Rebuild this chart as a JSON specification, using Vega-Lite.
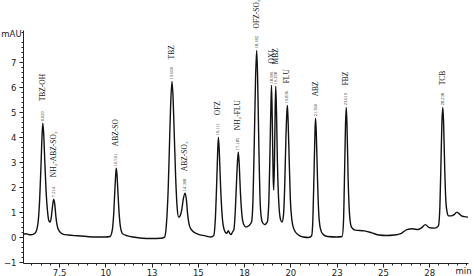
{
  "$schema": "https://vega.github.io/schema/vega-lite/v6.json",
  "width": 445,
  "height": 233,
  "autosize": {"type": "none"},
  "padding": {"left": 23, "top": 30, "right": 6, "bottom": 13},
  "background": "white",
  "config": {
    "view": {"stroke": null},
    "axis": {"labelFont": "DejaVu Sans", "labelFontSize": 8.5, "labelColor": "#222", "domainColor": "#222", "tickColor": "#222", "grid": false}
  },
  "datasets": {
    "chrom": [
      {"t": 5.55, "v": 0.1}, {"t": 5.7, "v": 0.13}, {"t": 5.85, "v": 0.1}, {"t": 6.0, "v": 0.09}, {"t": 6.2, "v": 0.15},
      {"t": 6.35, "v": 0.5}, {"t": 6.45, "v": 1.5}, {"t": 6.52, "v": 2.8}, {"t": 6.57, "v": 3.9}, {"t": 6.62, "v": 4.56},
      {"t": 6.67, "v": 4.1}, {"t": 6.73, "v": 3.0}, {"t": 6.8, "v": 1.8}, {"t": 6.88, "v": 1.0}, {"t": 6.95, "v": 0.65},
      {"t": 7.02, "v": 0.6}, {"t": 7.08, "v": 0.8}, {"t": 7.14, "v": 1.2}, {"t": 7.21, "v": 1.52}, {"t": 7.27, "v": 1.3},
      {"t": 7.33, "v": 0.8}, {"t": 7.4, "v": 0.45}, {"t": 7.5, "v": 0.25}, {"t": 7.7, "v": 0.12}, {"t": 8.0, "v": 0.08},
      {"t": 8.5, "v": 0.05}, {"t": 9.0, "v": 0.02}, {"t": 9.5, "v": 0.0}, {"t": 10.0, "v": 0.0}, {"t": 10.25, "v": 0.02},
      {"t": 10.38, "v": 0.3}, {"t": 10.45, "v": 0.9}, {"t": 10.51, "v": 1.8}, {"t": 10.56, "v": 2.5}, {"t": 10.59, "v": 2.76},
      {"t": 10.63, "v": 2.5}, {"t": 10.68, "v": 1.8}, {"t": 10.75, "v": 0.9}, {"t": 10.83, "v": 0.35}, {"t": 10.95, "v": 0.12},
      {"t": 11.2, "v": 0.05}, {"t": 11.5, "v": 0.0}, {"t": 12.0, "v": -0.05}, {"t": 12.5, "v": -0.06}, {"t": 13.0, "v": -0.05},
      {"t": 13.2, "v": 0.0}, {"t": 13.3, "v": 0.5}, {"t": 13.4, "v": 2.0}, {"t": 13.47, "v": 3.8}, {"t": 13.53, "v": 5.3},
      {"t": 13.6, "v": 6.24}, {"t": 13.66, "v": 5.6}, {"t": 13.73, "v": 4.0}, {"t": 13.8, "v": 2.4}, {"t": 13.88, "v": 1.2},
      {"t": 13.96, "v": 0.8}, {"t": 14.04, "v": 0.85}, {"t": 14.13, "v": 1.1}, {"t": 14.22, "v": 1.55}, {"t": 14.31, "v": 1.76},
      {"t": 14.38, "v": 1.5}, {"t": 14.45, "v": 0.9}, {"t": 14.55, "v": 0.45}, {"t": 14.7, "v": 0.25}, {"t": 15.0, "v": 0.12},
      {"t": 15.4, "v": 0.05}, {"t": 15.7, "v": 0.0}, {"t": 15.85, "v": 0.05}, {"t": 15.95, "v": 0.8}, {"t": 16.02, "v": 2.2},
      {"t": 16.07, "v": 3.4}, {"t": 16.11, "v": 4.0}, {"t": 16.16, "v": 3.4}, {"t": 16.23, "v": 2.0}, {"t": 16.32, "v": 0.8},
      {"t": 16.42, "v": 0.3}, {"t": 16.55, "v": 0.15}, {"t": 16.65, "v": 0.25}, {"t": 16.72, "v": 0.15}, {"t": 16.8, "v": 0.1},
      {"t": 16.87, "v": 0.2}, {"t": 16.95, "v": 0.3}, {"t": 17.02, "v": 1.0}, {"t": 17.09, "v": 2.2}, {"t": 17.14, "v": 3.0},
      {"t": 17.185, "v": 3.4}, {"t": 17.23, "v": 3.0}, {"t": 17.3, "v": 1.8}, {"t": 17.38, "v": 0.9}, {"t": 17.48, "v": 0.5},
      {"t": 17.6, "v": 0.4}, {"t": 17.75, "v": 0.45}, {"t": 17.9, "v": 0.6}, {"t": 17.98, "v": 1.5}, {"t": 18.05, "v": 3.8},
      {"t": 18.12, "v": 6.4}, {"t": 18.18, "v": 7.48}, {"t": 18.23, "v": 6.4}, {"t": 18.3, "v": 3.5}, {"t": 18.38, "v": 1.2},
      {"t": 18.48, "v": 0.6}, {"t": 18.6, "v": 0.5}, {"t": 18.75, "v": 0.6}, {"t": 18.84, "v": 1.5}, {"t": 18.9, "v": 3.5},
      {"t": 18.95, "v": 5.3}, {"t": 18.98, "v": 6.08}, {"t": 19.02, "v": 4.8}, {"t": 19.07, "v": 2.4}, {"t": 19.1, "v": 1.88},
      {"t": 19.14, "v": 3.0}, {"t": 19.18, "v": 5.2}, {"t": 19.21, "v": 6.04}, {"t": 19.25, "v": 5.0}, {"t": 19.3, "v": 3.0},
      {"t": 19.38, "v": 1.3}, {"t": 19.47, "v": 0.7}, {"t": 19.55, "v": 0.6}, {"t": 19.63, "v": 0.9}, {"t": 19.7, "v": 2.2},
      {"t": 19.76, "v": 4.0}, {"t": 19.81, "v": 5.0}, {"t": 19.84, "v": 5.28}, {"t": 19.88, "v": 4.6}, {"t": 19.94, "v": 3.0},
      {"t": 20.0, "v": 1.5}, {"t": 20.08, "v": 0.7}, {"t": 20.2, "v": 0.3}, {"t": 20.4, "v": 0.1}, {"t": 20.7, "v": 0.0},
      {"t": 21.0, "v": -0.02}, {"t": 21.15, "v": 0.05}, {"t": 21.22, "v": 0.8}, {"t": 21.28, "v": 2.6}, {"t": 21.33, "v": 4.2},
      {"t": 21.36, "v": 4.76}, {"t": 21.4, "v": 4.2}, {"t": 21.46, "v": 2.5}, {"t": 21.53, "v": 1.0}, {"t": 21.62, "v": 0.35},
      {"t": 21.75, "v": 0.12}, {"t": 22.0, "v": 0.02}, {"t": 22.5, "v": 0.0}, {"t": 22.8, "v": 0.02}, {"t": 22.87, "v": 0.6},
      {"t": 22.93, "v": 2.6}, {"t": 22.98, "v": 4.5}, {"t": 23.02, "v": 5.2}, {"t": 23.06, "v": 4.5}, {"t": 23.12, "v": 2.4},
      {"t": 23.2, "v": 0.9}, {"t": 23.3, "v": 0.4}, {"t": 23.5, "v": 0.28}, {"t": 24.0, "v": 0.25}, {"t": 24.4, "v": 0.17},
      {"t": 24.8, "v": 0.08}, {"t": 25.2, "v": 0.06}, {"t": 25.6, "v": 0.08}, {"t": 26.0, "v": 0.15}, {"t": 26.3, "v": 0.3},
      {"t": 26.6, "v": 0.33}, {"t": 26.9, "v": 0.3}, {"t": 27.1, "v": 0.38}, {"t": 27.3, "v": 0.5}, {"t": 27.5, "v": 0.38},
      {"t": 27.8, "v": 0.36}, {"t": 28.0, "v": 0.45}, {"t": 28.08, "v": 1.2}, {"t": 28.14, "v": 3.0}, {"t": 28.19, "v": 4.6},
      {"t": 28.24, "v": 5.2}, {"t": 28.28, "v": 4.6}, {"t": 28.34, "v": 2.8}, {"t": 28.4, "v": 1.5}, {"t": 28.47, "v": 1.0},
      {"t": 28.55, "v": 0.85}, {"t": 28.7, "v": 0.85}, {"t": 28.85, "v": 0.9}, {"t": 29.0, "v": 1.0}, {"t": 29.1, "v": 0.95},
      {"t": 29.25, "v": 0.85}, {"t": 29.4, "v": 0.82}, {"t": 29.6, "v": 0.8}
    ],
    "peaks": [
      {"name": "TBZ-OH", "rt": "6.620", "t": 6.62, "h": 4.56},
      {"name": "NH₂-ABZ-SO₂", "rt": "7.214", "t": 7.214, "h": 1.52},
      {"name": "ABZ-SO", "rt": "10.591", "t": 10.591, "h": 2.76},
      {"name": "TBZ", "rt": "13.600", "t": 13.6, "h": 6.24},
      {"name": "ABZ-SO₂", "rt": "14.308", "t": 14.308, "h": 1.76},
      {"name": "OFZ", "rt": "16.111", "t": 16.111, "h": 4.0},
      {"name": "NH₂-FLU", "rt": "17.185", "t": 17.185, "h": 3.4},
      {"name": "OFZ-SO₂", "rt": "18.182", "t": 18.182, "h": 7.48},
      {"name": "OXI", "rt": "18.981", "t": 18.981, "h": 6.08},
      {"name": "MBZ", "rt": "19.208", "t": 19.208, "h": 6.04},
      {"name": "FLU", "rt": "19.836", "t": 19.836, "h": 5.28},
      {"name": "ABZ", "rt": "21.360", "t": 21.36, "h": 4.76},
      {"name": "FBZ", "rt": "23.019", "t": 23.019, "h": 5.2},
      {"name": "TCB", "rt": "28.238", "t": 28.238, "h": 5.2}
    ]
  },
  "layer": [
    {
      "data": {"name": "chrom"},
      "mark": {"type": "line", "color": "#111", "strokeWidth": 1.4, "interpolate": "monotone"},
      "encoding": {
        "x": {"field": "t", "type": "quantitative", "scale": {"domain": [5.55, 29.6], "nice": false, "zero": false},
          "axis": {"orient": "bottom", "values": [7.5, 10, 12.5, 15, 17.5, 20, 22.5, 25, 27.5], "format": "~g", "tickSize": 4, "labelPadding": 1,
            "title": "min", "titleFont": "DejaVu Sans", "titleFontSize": 8.5, "titleFontWeight": "normal", "titleAngle": 0, "titleX": 440, "titleY": 7, "titleAlign": "center", "titleBaseline": "middle", "titleColor": "#222"}},
        "y": {"field": "v", "type": "quantitative", "scale": {"domain": [-1.04, 8.3], "nice": false, "zero": false},
          "axis": {"orient": "left", "values": [-1, 0, 1, 2, 3, 4, 5, 6, 7], "tickSize": 4, "labelPadding": 3,
            "title": "mAU", "titleFont": "DejaVu Sans", "titleFontSize": 8.5, "titleFontWeight": "normal", "titleAngle": 0, "titleX": -12, "titleY": 3, "titleAlign": "center", "titleBaseline": "middle", "titleColor": "#222"}}
      }
    },
    {
      "data": {"name": "peaks"},
      "mark": {"type": "text", "angle": 270, "align": "left", "baseline": "middle", "dx": 22, "font": "Liberation Serif", "fontSize": 7.5, "color": "#222"},
      "encoding": {
        "x": {"field": "t", "type": "quantitative",
          "axis": {"orient": "bottom", "values": [6, 6.5, 7, 8, 8.5, 9, 9.5, 10.5, 11, 11.5, 12, 13, 13.5, 14, 14.5, 15.5, 16, 16.5, 17, 18, 18.5, 19, 19.5, 20.5, 21, 21.5, 22, 23, 23.5, 24, 24.5, 25.5, 26, 26.5, 27, 28, 28.5, 29, 29.5], "labels": false, "domain": false, "tickSize": 2, "title": null}},
        "y": {"field": "h", "type": "quantitative",
          "axis": {"orient": "left", "values": [-0.8, -0.6, -0.4, -0.2, 0.2, 0.4, 0.6, 0.8, 1.2, 1.4, 1.6, 1.8, 2.2, 2.4, 2.6, 2.8, 3.2, 3.4, 3.6, 3.8, 4.2, 4.4, 4.6, 4.8, 5.2, 5.4, 5.6, 5.8, 6.2, 6.4, 6.6, 6.8, 7.2, 7.4, 7.6, 7.8, 8.2], "labels": false, "domain": false, "tickSize": 2, "title": null}},
        "text": {"field": "name"}
      }
    },
    {
      "data": {"name": "peaks"},
      "mark": {"type": "text", "angle": 270, "align": "left", "baseline": "middle", "dx": 2, "font": "Liberation Serif", "fontSize": 4.5, "color": "#222"},
      "encoding": {
        "x": {"field": "t", "type": "quantitative", "axis": null},
        "y": {"field": "h", "type": "quantitative", "axis": null},
        "text": {"field": "rt"}
      }
    }
  ],
  "resolve": {"axis": {"x": "independent", "y": "independent"}}
}
